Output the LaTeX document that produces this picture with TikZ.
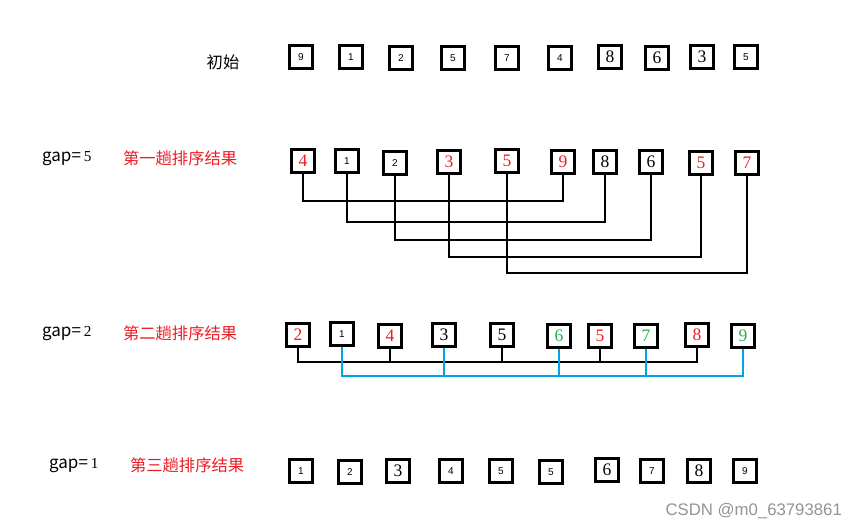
\documentclass[tikz,border=0pt]{standalone}
\usepackage{fontspec}
\setmainfont{Liberation Serif}
\setsansfont{Liberation Sans}
\newfontfamily\cjk{Noto Sans CJK SC}
\usepackage{tikz}
\usetikzlibrary{positioning}
\definecolor{pred}{RGB}{237,28,36}
\definecolor{pgreen}{RGB}{34,177,76}
\definecolor{pblue}{RGB}{0,162,232}

\begin{document}
\begin{tikzpicture}[
        x=0.3mm, y=-0.3mm,
        cell/.style   = {draw, line width=0.85mm, minimum size=6.7mm, inner sep=0pt},
        sm/.style     = {cell, font=\sffamily\fontsize{8.5}{9}\selectfont},
        big/.style    = {cell, font=\fontsize{15}{15}\selectfont},
        title/.style  = {font=\cjk\fontsize{13.9}{15}\selectfont, text=pred, anchor=west},
        gaplbl/.style = {font=\cjk\fontsize{14.5}{16}\selectfont, anchor=west},
        link/.style   = {line width=0.75mm},
        blink/.style  = {link, draw=pblue},
    ]
    \useasboundingbox (0,0) rectangle (856,529);

    % initial order
    \node[font=\cjk\fontsize{13.9}{15}\selectfont] (init) at (223,62) {初始};
    \node[sm]  (a1)  at (301,57) {9};
    \node[sm]  (a2)  at (351,57) {1};
    \node[sm]  (a3)  at (401,58) {2};
    \node[sm]  (a4)  at (453,58) {5};
    \node[sm]  (a5)  at (507,58) {7};
    \node[sm]  (a6)  at (560,58) {4};
    \node[big] (a7)  at (610,57) {8};
    \node[big] (a8)  at (657,58) {6};
    \node[big] (a9)  at (702,57) {3};
    \node[sm]  (a10) at (746,57) {5};

    % gap = 5
    \node[gaplbl] (g5) at (38,159) {gap=\,\rmfamily\fontsize{13}{14}\selectfont 5};
    \node[title] (t1) at (119,158) {第一趟排序结果};
    \node[big, text=pred] (b1)  at (303,161) {4};
    \node[sm]             (b2)  at (347,161) {1};
    \node[sm]             (b3)  at (395,163) {2};
    \node[big, text=pred] (b4)  at (449,162) {3};
    \node[big, text=pred] (b5)  at (507,161) {5};
    \node[big, text=pred] (b6)  at (563,162) {9};
    \node[big]            (b7)  at (605,162) {8};
    \node[big]            (b8)  at (651,162) {6};
    \node[big, text=pred] (b9)  at (701,163) {5};
    \node[big, text=pred] (b10) at (747,163) {7};

    \coordinate (y1) at (0,201);
    \coordinate (y2) at (0,222);
    \coordinate (y3) at (0,240);
    \coordinate (y4) at (0,257);
    \coordinate (y5) at (0,273);
    \draw[link] (b1.south) -- (b1 |- y1) -| (b6.south);
    \draw[link] (b2.south) -- (b2 |- y2) -| (b7.south);
    \draw[link] (b3.south) -- (b3 |- y3) -| (b8.south);
    \draw[link] (b4.south) -- (b4 |- y4) -| (b9.south);
    \draw[link] (b5.south) -- (b5 |- y5) -| (b10.south);

    % gap = 2
    \node[gaplbl] (g2) at (38,334) {gap=\,\rmfamily\fontsize{13}{14}\selectfont 2};
    \node[title] (t2) at (119,333) {第二趟排序结果};
    \node[big, text=pred]   (c1)  at (298,335) {2};
    \node[sm]               (c2)  at (342,334) {1};
    \node[big, text=pred]   (c3)  at (390,336) {4};
    \node[big]              (c4)  at (444,335) {3};
    \node[big]              (c5)  at (502,335) {5};
    \node[big, text=pgreen] (c6)  at (559,336) {6};
    \node[big, text=pred]   (c7)  at (600,336) {5};
    \node[big, text=pgreen] (c8)  at (646,336) {7};
    \node[big, text=pred]   (c9)  at (697,335) {8};
    \node[big, text=pgreen] (c10) at (743,336) {9};

    \coordinate (yb) at (0,362);
    \coordinate (yc) at (0,376);
    \draw[link] (c1.south) -- (c1 |- yb) -| (c9.south);
    \draw[link] (c3.south) -- (c3 |- yb);
    \draw[link] (c5.south) -- (c5 |- yb);
    \draw[link] (c7.south) -- (c7 |- yb);
    \draw[blink] (c2.south) -- (c2 |- yc) -| (c10.south);
    \draw[blink] (c4.south) -- (c4 |- yc);
    \draw[blink] (c6.south) -- (c6 |- yc);
    \draw[blink] (c8.south) -- (c8 |- yc);

    % gap = 1
    \node[gaplbl] (g1) at (45,466) {gap=\,\rmfamily\fontsize{13}{14}\selectfont 1};
    \node[title] (t3) at (126,465) {第三趟排序结果};
    \node[sm]  (d1)  at (301,471) {1};
    \node[sm]  (d2)  at (350,472) {2};
    \node[big] (d3)  at (398,471) {3};
    \node[sm]  (d4)  at (451,471) {4};
    \node[sm]  (d5)  at (501,471) {5};
    \node[sm]  (d6)  at (551,472) {5};
    \node[big] (d7)  at (607,470) {6};
    \node[sm]  (d8)  at (652,471) {7};
    \node[big] (d9)  at (699,471) {8};
    \node[sm]  (d10) at (745,471) {9};

    \node[font=\sffamily\fontsize{14.3}{15}\selectfont, text=black!42, anchor=east] (mark) at (846,511) {CSDN @m0\_63793861};
\end{tikzpicture}
\end{document}
